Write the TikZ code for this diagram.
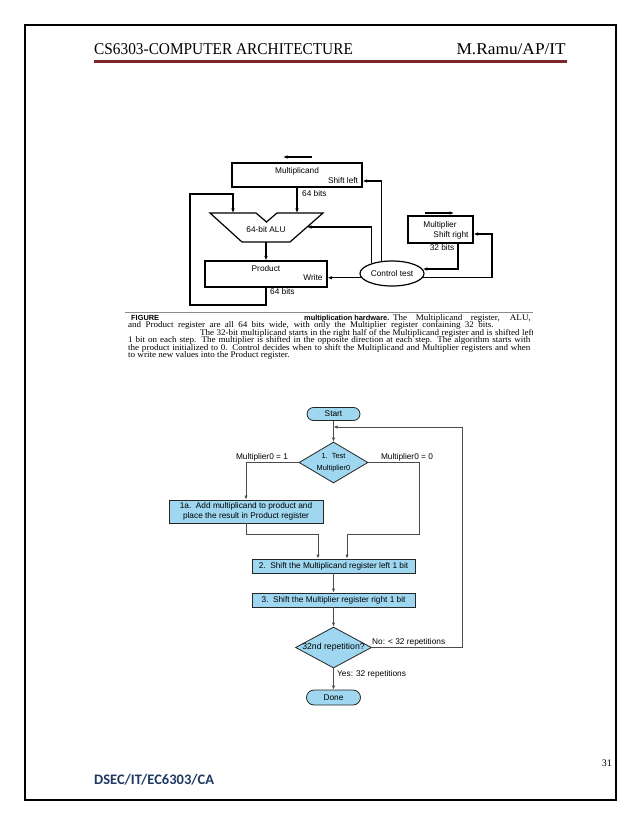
\documentclass[tikz,border=0pt]{standalone}
\usepackage{fontspec}
\setmainfont{Liberation Serif}
\setsansfont{Liberation Sans}
\newfontfamily\ftrfont{Carlito}
\usetikzlibrary{arrows.meta,shapes.geometric}
\definecolor{hdrred}{RGB}{125,38,38}
\definecolor{ftrblue}{RGB}{31,56,100}
\definecolor{fcblue}{RGB}{158,215,239}
\newcommand{\myfs}[2]{\fontsize{#1}{#2}\selectfont}
\begin{document}
\begin{tikzpicture}[x=1pt,y=-1pt,
 hwbox/.style={draw=black,line width=1.2pt,inner sep=0pt},
 hwline/.style={draw=black,line width=1.1pt},
 hwarr/.style={hwline,-{Latex[length=4.5pt,width=3.6pt]}},
 hwtxt/.style={font=\sffamily\myfs{8.3}{9},inner sep=0pt},
 fcbox/.style={draw=black!85,line width=0.8pt,fill=fcblue,inner sep=0pt},
 fcline/.style={draw=black!70,line width=0.7pt},
 fcarr/.style={fcline,-{Latex[length=4pt,width=3.2pt]}},
 fctxt/.style={font=\sffamily\myfs{8.3}{9.5},inner sep=0pt},
 captxt/.style={font=\myfs{8.6}{8.6},inner sep=0pt,anchor=base west,xscale=1.05},
 capbold/.style={font=\sffamily\bfseries\myfs{7.4}{8},inner sep=0pt,anchor=base west},
]
\useasboundingbox (0,0) rectangle (638,826);
\fill[white] (0,0) rectangle (638,826);
% page frame
\draw[line width=1.3pt] (25,25) rectangle (616,800);
% header
\node[anchor=base west,inner sep=0pt,font=\myfs{16.5}{18},xscale=0.93] (hdl) at (94,55) {CS6303-COMPUTER ARCHITECTURE};
\node[anchor=base east,inner sep=0pt,font=\myfs{16.5}{18},xscale=1.05] (hdr) at (566,55) {M.Ramu/AP/IT};
\draw[hdrred,line width=3pt] (94,61.5) -- (567,61.5);
% footer
\node[anchor=base east,inner sep=0pt,font=\myfs{10}{12}] (pg) at (612,766) {31};
\node[anchor=base west,inner sep=0pt,font=\ftrfont\bfseries\myfs{14.5}{16},text=ftrblue] (ftr) at (94,784) {DSEC/IT/EC6303/CA};

% ===== hardware diagram =====
\node[hwbox,minimum width=130pt,minimum height=24pt] (mcand) at (297,175) {};
\node[hwtxt] (mcandT) at (297,171) {Multiplicand};
\node[hwtxt] (shl) at (343,181) {Shift left};
\coordinate (la1) at (312,157); \coordinate (la2) at (283,157);
\draw[hwarr] (la1) -- (la2);
% ALU
\draw[hwbox,line join=miter] (210,213) -- (256,213) -- (266.5,222) -- (277,213) -- (323,213) -- (290,242) -- (242,242) -- cycle;
\node[hwtxt] (aluT) at (266,230) {64-bit ALU};
\coordinate (aluIn) at (297,213);
\coordinate (aluInL) at (233,213);
\coordinate (aluOut) at (266,242);
\coordinate (aluR) at (307,227);
% product
\node[hwbox,minimum width=122pt,minimum height=26pt] (prod) at (266,274) {};
\node[hwtxt] (prodT) at (266,269) {Product};
\node[hwtxt] (wrT) at (313,278) {Write};
% multiplier
\node[hwbox,minimum width=65pt,minimum height=27pt] (mplier) at (440.5,229.5) {};
\node[hwtxt] (mplT) at (440,225) {Multiplier};
\node[hwtxt] (shr) at (451,235) {Shift right};
\coordinate (ra1) at (425,213); \coordinate (ra2) at (454,213);
\draw[hwarr] (ra1) -- (ra2);
% control
\node[hwbox,ellipse,minimum width=64pt,minimum height=25pt,fill=white,hwtxt] (ctrl) at (392,273.5) {Control test};
% connectors
\draw[hwarr] (mcand.south) -- (aluIn);
\node[hwtxt,anchor=west] (b64a) at (302,194) {64 bits};
\draw[hwarr] (aluOut) -- (prod.north);
\draw[hwarr,line join=miter] (prod.south) |- (190,305) |- (233,194) -- (aluInL);
\node[hwtxt,anchor=west] (b64b) at (270,292) {64 bits};
\node[hwtxt] (b32) at (442,248) {32 bits};
\draw[hwarr] (ctrl.188.56) -- (ctrl.188.56 -| prod.east);
\coordinate (c1) at (372,227);
\draw[hwarr] (ctrl.154) -- (ctrl.154 |- c1) -- (aluR);
\coordinate (c2) at (382,181);
\draw[hwarr] (ctrl.130) -- (ctrl.130 |- c2) -- (c2 -| mcand.east);
\coordinate (c3) at (458,269);
\draw[hwarr] (c3 |- mplier.south) -- (c3) -- (c3 -| ctrl.8.56);
\coordinate (c4) at (492,234);
\draw[hwarr] (ctrl.-8.56) -- (ctrl.-8.56 -| c4) -- (c4) -- (c4 -| mplier.east);

% ===== caption =====
\draw[black!45,line width=0.6pt] (125,312) -- (533,312);
\begin{scope}
\clip (110,305) rectangle (532.5,365);
\node[capbold] (figw) at (131,320) {FIGURE};
\node[capbold] (mhw) at (304,320) {multiplication hardware.};
\node[captxt] (cl1) at (393,320) {\makebox[131pt][s]{The Multiplicand register, ALU,}};
\node[captxt] (cl2) at (128,327.5) {\makebox[348pt][s]{and Product register are all 64 bits wide, with only the Multiplier register containing 32 bits.}};
\node[captxt] (cl3) at (200,335) {\makebox[318pt][s]{The 32-bit multiplicand starts in the right half of the Multiplicand register and is shifted left}};
\node[captxt] (cl4) at (128,342.5) {\makebox[383pt][s]{1 bit on each step. The multiplier is shifted in the opposite direction at each step. The algorithm starts with}};
\node[captxt] (cl5) at (128,350) {\makebox[383pt][s]{the product initialized to 0. Control decides when to shift the Multiplicand and Multiplier registers and when}};
\node[captxt] (cl6) at (128,357.5) {to write new values into the Product register.};
\end{scope}

% ===== flowchart =====
\node[fcbox,rounded corners=6.5pt,minimum width=53pt,minimum height=13pt,fctxt] (start) at (333.5,414) {Start};
\node[fcbox,diamond,minimum width=69pt,minimum height=41pt] (d1) at (333.5,462.5) {};
\node[fctxt,font=\sffamily\myfs{7.4}{12},align=center] (d1t) at (d1) {1.\ \ Test\\Multiplier0};
\node[fcbox,minimum width=154pt,minimum height=23pt,align=center,fctxt] (b1a) at (246,511.5) {1a.\ \ Add multiplicand to product and\\place the result in Product register};
\node[fcbox,minimum width=163pt,minimum height=14pt,fctxt] (b2) at (333.5,566) {2.\ \ Shift the Multiplicand register left 1 bit};
\node[fcbox,minimum width=163pt,minimum height=14pt,fctxt] (b3) at (333.5,600) {3.\ \ Shift the Multiplier register right 1 bit};
\node[fcbox,diamond,minimum width=76pt,minimum height=41pt] (d2) at (333.5,647.5) {};
\node[fctxt,font=\sffamily\myfs{8.7}{10}] (d2t) at (d2) {32nd repetition?};
\node[fcbox,rounded corners=7.5pt,minimum width=54pt,minimum height=15pt,fctxt] (done) at (333.5,697.5) {Done};
% labels
\node[fctxt,anchor=base] (l1) at (262,459) {Multiplier0 = 1};
\node[fctxt,anchor=base] (l0) at (407,459) {Multiplier0 = 0};
\node[fctxt,anchor=base west] (lno) at (372,644) {No: < 32 repetitions};
\node[fctxt,anchor=base west] (lyes) at (337,676) {Yes: 32 repetitions};
% connectors
\draw[fcarr] (start.south) -- (d1.north);
\draw[fcarr] (d1.west) -| (b1a.north);
\coordinate (rt) at (419,534); \coordinate (rin) at (347,534); \coordinate (lin) at (318,534);
\draw[fcarr] (d1.east) -| (rt) -- (rin) -- (rin |- b2.north);
\draw[fcarr] (b1a.south) |- (lin) -- (lin |- b2.north);
\draw[fcarr] (b2.south) -- (b3.north);
\draw[fcarr] (b3.south) -- (d2.north);
\draw[fcarr] (d2.south) -- (done.north);
\coordinate (lpr) at (462,427);
\draw[fcarr] (d2.east) -| (lpr) -- (lpr -| start.south);
\end{tikzpicture}
\end{document}
